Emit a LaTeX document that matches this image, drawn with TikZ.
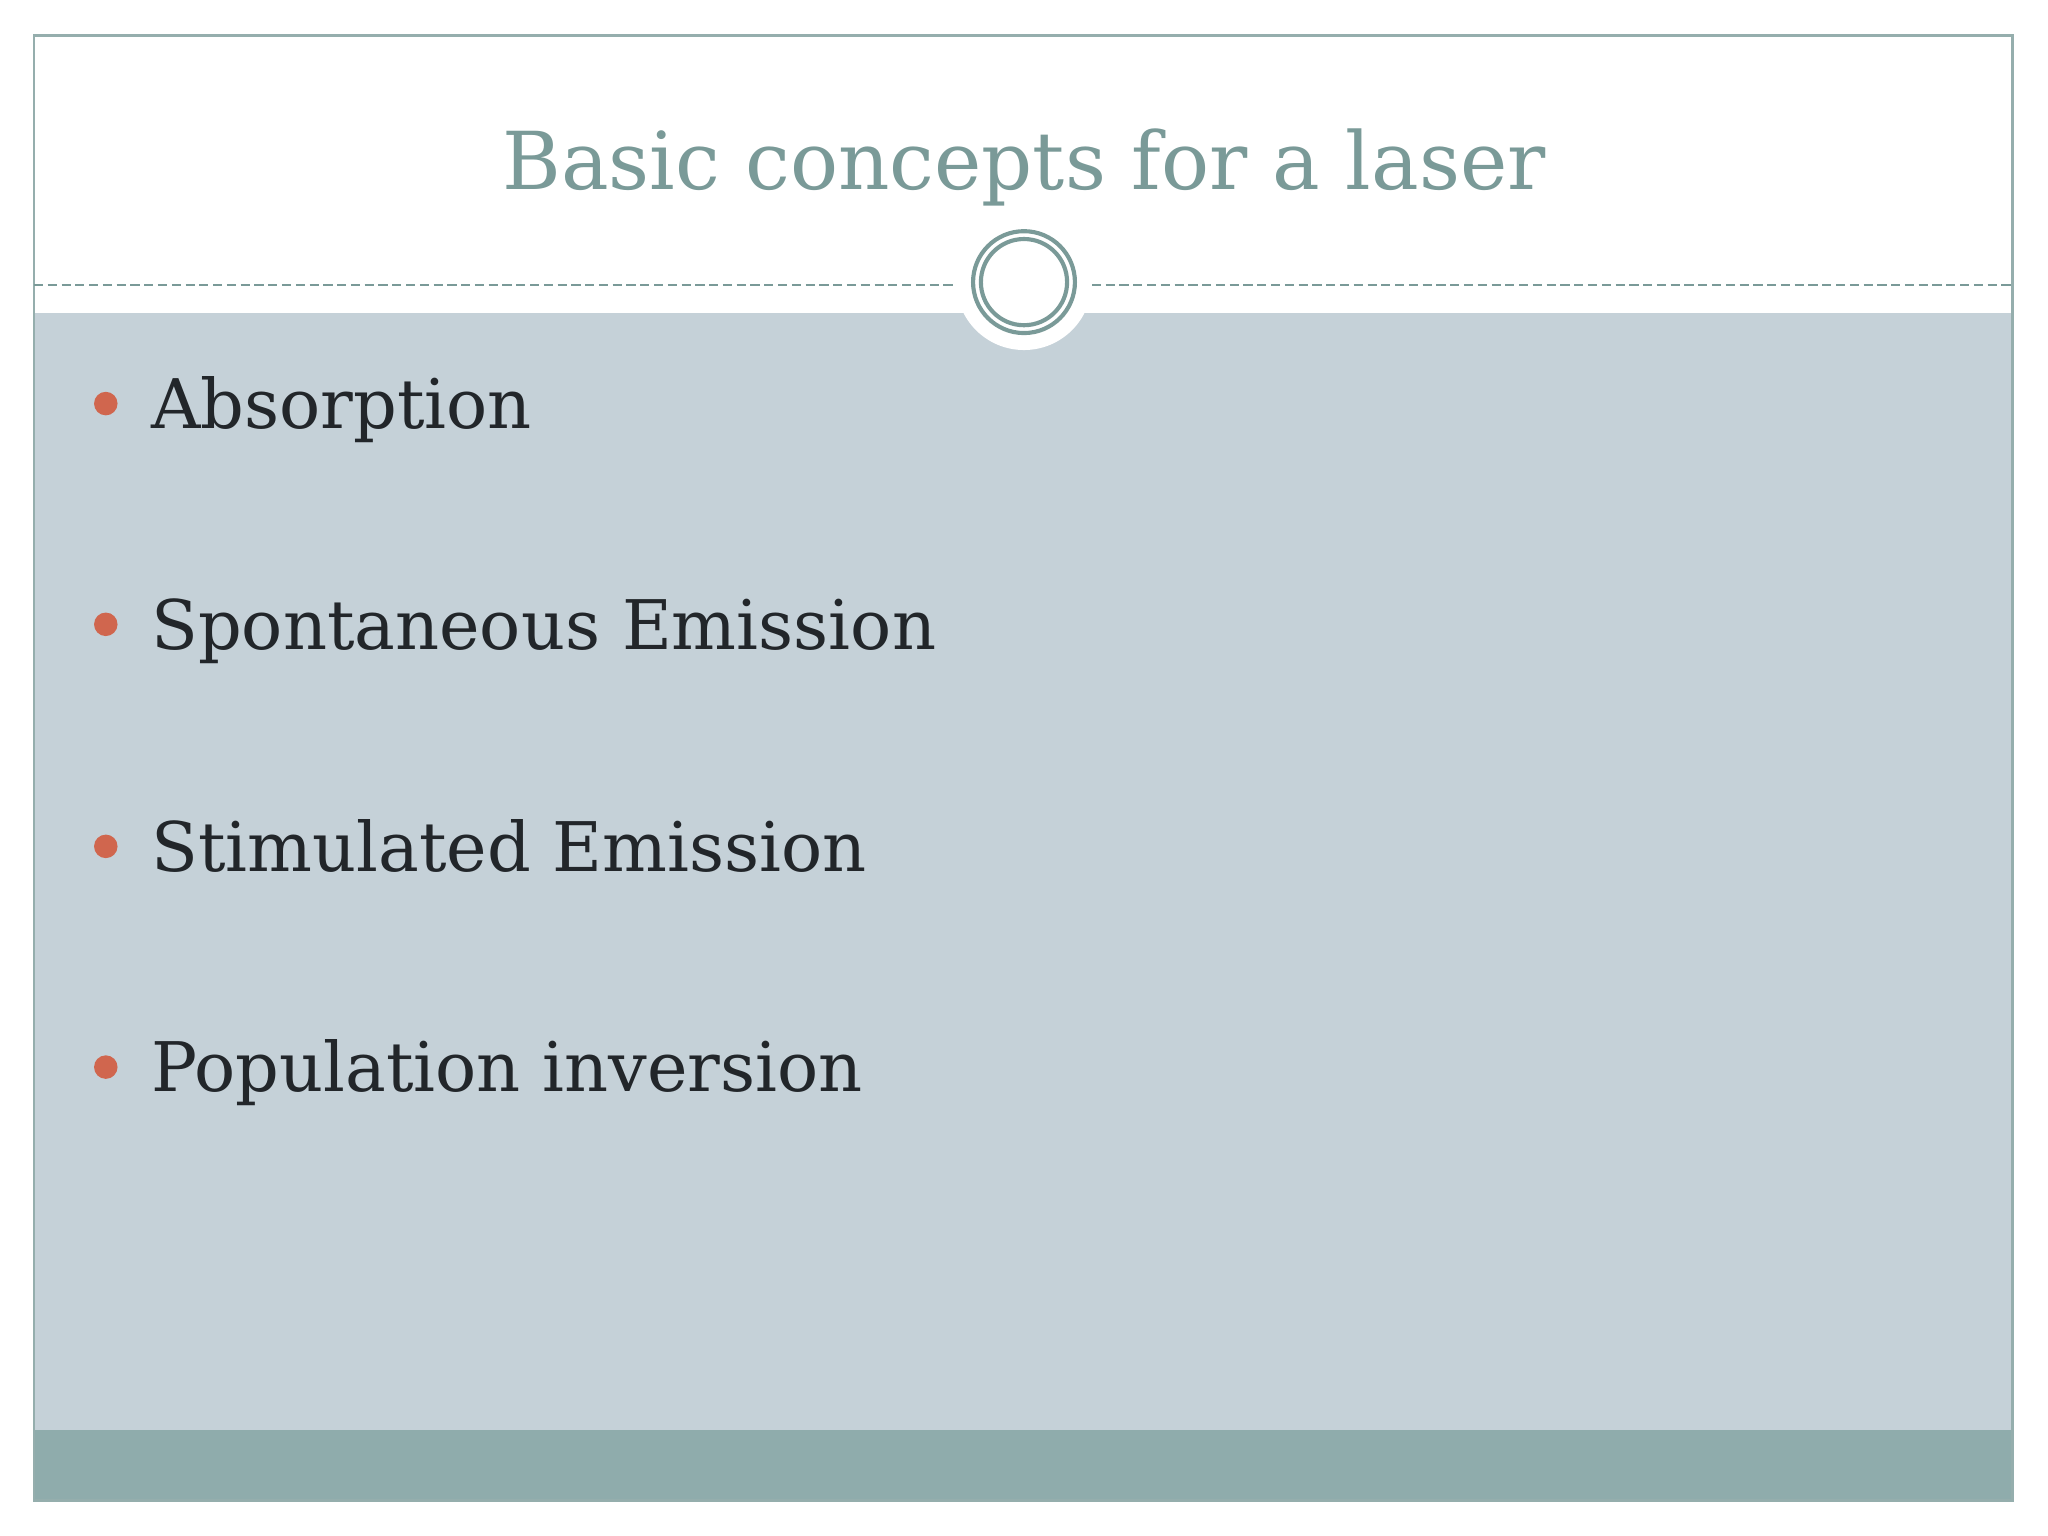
\documentclass[tikz,border=0pt]{standalone}
\usepackage{fontspec}
\setmainfont{DejaVu Serif}
\definecolor{bodyc}{HTML}{C5D1D8}
\definecolor{footc}{HTML}{8FACAC}
\definecolor{ringc}{HTML}{7A9A98}
\definecolor{bulc}{HTML}{D0664E}
\definecolor{txtc}{HTML}{22262A}
\tikzset{bul/.style={circle,fill=bulc,inner sep=0pt,minimum size=0.18cm},
 item/.style={anchor=base west,inner sep=0pt,text=txtc,font=\fontsize{14.9}{17}\selectfont}}
\begin{document}
\begin{tikzpicture}[x=0.01cm,y=-0.01cm]
\useasboundingbox (0,0) rectangle (1568,1176);
\fill[white] (0,0) rectangle (1568,1176);
\fill[bodyc] (26,240) rectangle (1541,1095);
\fill[footc] (26,1095) rectangle (1541,1149);
\draw[ringc!80,line width=0.6pt] (26,27) rectangle (1541,1149);
\draw[ringc,dashed,dash pattern=on 2pt off 1pt,line width=0.5pt] (26,218) -- (732,218) (836,218) -- (1541,218);
\fill[white] (784,216) circle (52);
\draw[ringc,line width=0.9pt] (784,216) circle (39);
\draw[ringc,line width=0.9pt] (784,216) circle (33);
\node[anchor=base,text=ringc,font=\fontsize{17.4}{20}\selectfont,inner sep=0pt] (title) at (784,145) {Basic concepts for a laser};
\foreach \t/\y/\n in {Absorption/328/a,Spontaneous Emission/497/b,Stimulated Emission/667/c,Population inversion/836/d}{
 \node[bul] (d\n) at (81,\y-19) {};
 \node[item] (t\n) at (115,\y) {\t};
}
\end{tikzpicture}
\end{document}
